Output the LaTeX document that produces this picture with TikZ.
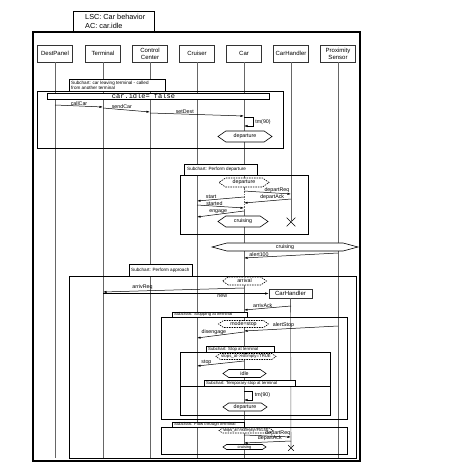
\documentclass[tikz,border=0pt]{standalone}
\usepackage{fontspec}
\setmainfont{Liberation Sans}
\newfontfamily\monofnt{Liberation Mono}
\usetikzlibrary{shapes.symbols,shapes.misc,arrows.meta}
\newcommand\fsz[1]{\fontsize{#1}{#1}\selectfont}
\tikzset{
  head/.style={draw=black!80, line width=0.6pt, minimum width=35pt, minimum height=17pt, inner sep=0pt, font=\fontsize{6}{6.8}\selectfont, align=center, fill=white},
  life/.style={draw=black!60, line width=0.6pt},
  sframe/.style={draw=black, line width=0.9pt},
  mframe/.style={draw=black, line width=1.1pt},
  tabbox/.style={draw=black, line width=0.8pt, fill=white, anchor=north west, inner sep=0pt},
  tabtxt/.style={anchor=west, inner sep=0pt, align=left, font=\fontsize{4.6}{5.2}\selectfont},
  msg/.style={draw=black, line width=0.5pt, -{Latex[length=3.5pt,width=2.2pt]}},
  lbl/.style={font=\fsz{5.3}, inner sep=0.6pt},
  hexa/.style={shape=signal, signal to=east and west, signal pointer angle=70, draw=black, line width=0.6pt, inner sep=0pt, fill=white, font=\fsz{5.3}},
  dhexa/.style={hexa, dashed, dash pattern=on 1.5pt off 1pt},
  xmark/.style={cross out, draw=black, line width=0.6pt, inner sep=0pt}
}
\begin{document}
\begin{tikzpicture}[x=1pt,y=-1pt]
\useasboundingbox (0,0) rectangle (474,473);
\fill[white] (0,0) rectangle (474,473);

% title tab and main frame
\node[tabbox, minimum width=81pt, minimum height=21pt, line width=0.9pt] (title) at (73,11) {};
\node[anchor=west, inner sep=0pt, align=left, font=\fontsize{7.3}{9}\selectfont] (titletxt) at (85,21.5) {LSC: Car behavior\\AC: car.idle};
\draw[mframe] (33,32) rectangle (360,461);

% lifeline heads
\node[head] (dp) at (55,53.5) {DestPanel};
\node[head] (tm) at (103,53.5) {Terminal};
\node[head] (cc) at (150,53.5) {Control\\Center};
\node[head] (cr) at (197,53.5) {Cruiser};
\node[head] (car) at (244,53.5) {Car};
\node[head] (ch) at (291,53.5) {CarHandler};
\node[head] (ps) at (338,53.5) {Proximity\\Sensor};

% lifeline end points
\coordinate (dpE) at (55,458);
\coordinate (tmE) at (103,458);
\coordinate (ccE) at (150,458);
\coordinate (crE) at (197,458);
\coordinate (carA) at (244,189);
\coordinate (carB) at (244,209);
\coordinate (carE) at (244,458);
\coordinate (psE) at (338,458);
\node[xmark, minimum size=8pt] (chx) at (291,222) {};
\node[xmark, minimum size=5pt] (chx2) at (291,448) {};

\draw[life] (dp.south) -- (dpE);
\draw[life] (tm.south) -- (tmE);
\draw[life] (cc.south) -- (ccE);
\draw[life] (cr.south) -- (crE);
\draw[life] (car.south) -- (carA);
\draw[life, dashed, dash pattern=on 1.5pt off 1pt] (carA) -- (carB);
\draw[life] (carB) -- (carE);
\draw[life] (ch.south) -- (chx.center);
\draw[life] (ps.south) -- (psE);

% ---------- Subchart 1 ----------
\draw[sframe] (37,91) rectangle (283,148);
\node[tabbox, minimum width=96pt, minimum height=12pt] (tab1) at (69,79) {};
\node[tabtxt] (tab1t) at (71,85) {Subchart: car leaving terminal - called\\from another terminal};
\node[draw=black, line width=0.6pt, fill=white, minimum width=222pt, minimum height=6pt, inner sep=0pt] (cond1) at (158,96) {};
\node[font=\monofnt\fsz{7}, inner sep=0pt] (cond1t) at (143.5,96) {car.idle= false};

\coordinate (m1a) at (55,105);  \coordinate (m1b) at (103,107);
\coordinate (m2a) at (103,108); \coordinate (m2b) at (150,112);
\coordinate (m3a) at (150,113); \coordinate (m3b) at (244,116);
\draw[msg] (m1a) -- node[lbl, pos=.5, above] {callCar} (m1b);
\draw[msg] (m2a) -- node[lbl, pos=.4, above] {sendCar} (m2b);
\draw[msg] (m3a) -- node[lbl, pos=.37, above] {setDest} (m3b);
\coordinate (s1a) at (244,117); \coordinate (s1b) at (244,126);
\draw[msg] (s1a) -- ++(9,0) -- ++(0,9) -- node[lbl, pos=0, right, xshift=1.5pt, yshift=4pt] {tm(90)} (s1b);
\node[hexa, minimum width=54pt, minimum height=11pt] (dep1) at (245,136.5) {departure};

% ---------- Subchart 2 ----------
\draw[sframe] (180,175) rectangle (308,234);
\node[tabbox, minimum width=73pt, minimum height=11pt] (tab2) at (184,164) {};
\node[tabtxt] (tab2t) at (187,169.5) {Subchart: Perform departure};
\node[dhexa, minimum width=50pt, minimum height=9pt] (dep2) at (244,182.5) {departure};
\coordinate (d1a) at (244,191); \coordinate (d1b) at (291,194);
\coordinate (d2a) at (291,199); \coordinate (d2b) at (244,203);
\coordinate (d3a) at (244,197); \coordinate (d3b) at (197,201);
\coordinate (d4a) at (197,205); \coordinate (d4b) at (244,208);
\coordinate (d5a) at (244,211); \coordinate (d5b) at (197,217);
\draw[msg] (d1a) -- node[lbl, pos=.7, above] {departReq} (d1b);
\draw[msg] (d2a) -- node[lbl, pos=.4, above] {departAck} (d2b);
\draw[msg] (d3a) -- node[lbl, pos=.7, above] {start} (d3b);
\draw[msg] (d4a) -- node[lbl, pos=.37, above] {started} (d4b);
\draw[msg] (d5a) -- node[lbl, pos=.55, above] {engage} (d5b);
\node[hexa, minimum width=50pt, minimum height=11pt] (cru1) at (243,221.5) {cruising};

% big cruising
\node[hexa, signal pointer angle=30, minimum width=146pt, minimum height=8pt] (cru2) at (285,247) {cruising};
\coordinate (a1a) at (338,253); \coordinate (a1b) at (244,258);
\draw[msg] (a1a) -- node[lbl, pos=.84, above] {alert100} (a1b);

% ---------- Subchart 3 ----------
\draw[sframe] (69,276) rectangle (356,458);
\node[tabbox, minimum width=63pt, minimum height=12pt] (tab3) at (129,264) {};
\node[tabtxt] (tab3t) at (131,270) {Subchart: Perform approach};
\node[dhexa, minimum width=44pt, minimum height=8pt] (arr) at (244.5,281) {arrival};
\coordinate (r1a) at (244,288); \coordinate (r1b) at (103,292);
\draw[msg] (r1a) -- node[lbl, pos=.72, above] {arrivReq} (r1b);
\node[draw=black!80, line width=0.6pt, fill=white, minimum width=43pt, minimum height=9pt, inner sep=0pt, font=\fsz{6}] (ch2) at (290.5,293.5) {CarHandler};
\draw[life] (ch2.south) -- (chx2.center);
\coordinate (n1a) at (103,293.5);
\draw[msg] (n1a) -- node[lbl, pos=.72, below] {new} (ch2.west);
\coordinate (k1a) at (291,306); \coordinate (k1b) at (244,310);
\draw[msg] (k1a) -- node[lbl, pos=.6, above] {arrivAck} (k1b);

% ---------- Subchart 4 ----------
\draw[sframe] (161,317) rectangle (347,419);
\node[tabbox, minimum width=75pt, minimum height=5.5pt] (tab4) at (172,311.5) {};
\node[tabtxt, font=\fsz{4.3}] (tab4t) at (174,314.3) {Subchart: Stopping at terminal};
\node[dhexa, minimum width=50pt, minimum height=7pt] (mst) at (243.5,324) {mode=stop};
\coordinate (t1a) at (338,326); \coordinate (t1b) at (244,331);
\draw[msg] (t1a) -- node[lbl, pos=.58, above] {alertStop} (t1b);
\coordinate (g1a) at (244,332); \coordinate (g1b) at (197,338);
\draw[msg] (g1a) -- node[lbl, pos=.64, above] {disengage} (g1b);

% ---------- Subchart 5 ----------
\draw[sframe] (180,352) rectangle (330,415);
\node[tabbox, minimum width=68pt, minimum height=6pt] (tab5) at (206,346) {};
\node[tabtxt, font=\fsz{4.3}] (tab5t) at (208,349) {Subchart: Stop at terminal};
\node[dhexa, minimum width=60pt, minimum height=6pt, font=\fsz{4.3}] (emp) at (246,356.5) {stops\_at->isEmpty=TRUE};
\coordinate (p1a) at (244,361); \coordinate (p1b) at (197,366);
\draw[msg] (p1a) -- node[lbl, pos=.8, above] {stop} (p1b);
\node[hexa, minimum width=43pt, minimum height=8pt] (idl) at (244.5,373.5) {idle};

% ---------- Subchart 6 ----------
\coordinate (l6a) at (180,386); \coordinate (l6b) at (330,386);
\draw[sframe] (l6a) -- (l6b);
\node[tabbox, minimum width=91pt, minimum height=6pt] (tab6) at (204,380) {};
\node[tabtxt, font=\fsz{4.3}] (tab6t) at (206,383) {Subchart: Temporary stop at terminal};
\coordinate (s2a) at (244,391); \coordinate (s2b) at (244,400);
\draw[msg] (s2a) -- ++(8,0) -- ++(0,9) -- node[lbl, pos=0, right, xshift=2pt, yshift=4.5pt] {tm(90)} (s2b);
\node[hexa, minimum width=44pt, minimum height=8pt] (dep3) at (245,407) {departure};

% ---------- Subchart 7 ----------
\draw[sframe] (161,427) rectangle (347,454);
\node[tabbox, minimum width=72pt, minimum height=5pt] (tab7) at (172,422) {};
\node[tabtxt, font=\fsz{4.3}] (tab7t) at (174,424.5) {Subchart: Flow through terminal};
\node[dhexa, minimum width=54pt, minimum height=5pt, font=\fsz{3.8}] (emp2) at (246,430.5) {stops\_at->isEmpty=FALSE};
\coordinate (q1a) at (244,435); \coordinate (q1b) at (291,437);
\coordinate (q2a) at (291,441); \coordinate (q2b) at (244,443);
\draw[msg] (q1a) -- node[lbl, pos=.72, above] {departReq} (q1b);
\draw[msg] (q2a) -- node[lbl, pos=.45, above] {departAck} (q2b);
\node[hexa, minimum width=43pt, minimum height=5pt, font=\fsz{4}] (cru3) at (244.5,447) {cruising};
\end{tikzpicture}
\end{document}
